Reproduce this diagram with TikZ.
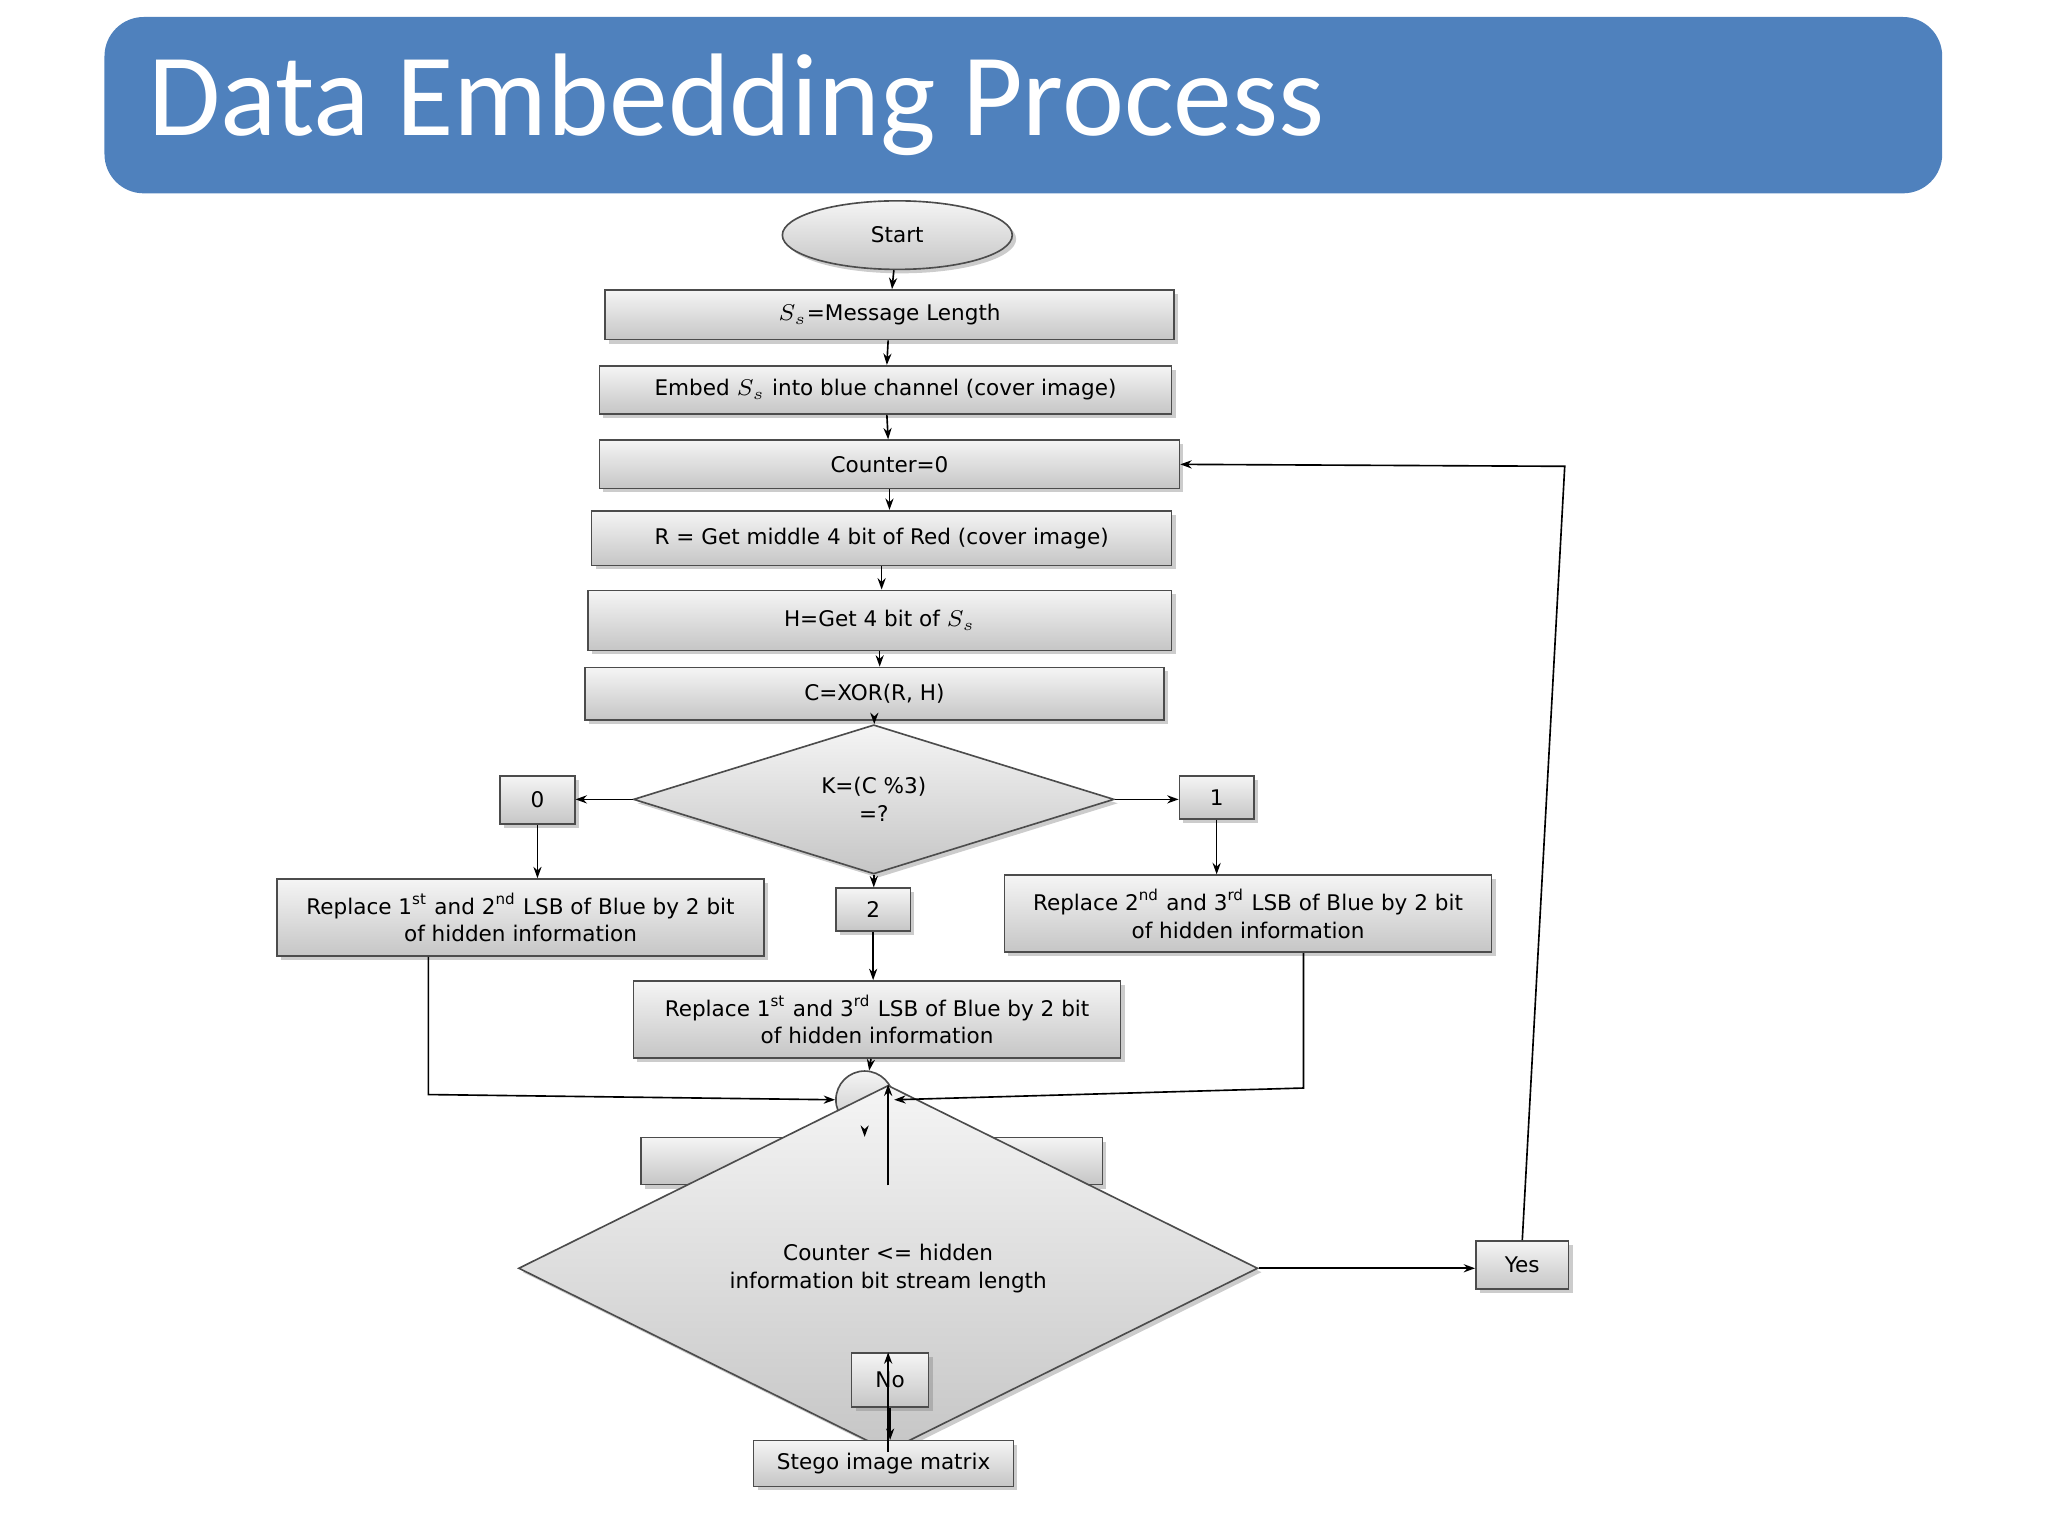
\documentclass[tikz,border=0pt]{standalone}
\usepackage{fontspec}
\setmainfont{DejaVu Sans}
\newfontfamily\titlefont{Carlito}
\usetikzlibrary{shapes.geometric,arrows.meta,shadows}
\begin{document}
\begin{tikzpicture}[x=0.4pt,y=-0.4pt,
  box/.style={draw=black!70,line width=0.5pt,top color=gray!8,bottom color=gray!45,
    drop shadow={shadow xshift=1.2pt,shadow yshift=-1.2pt,opacity=0.4},inner sep=1pt,
    font=\fontsize{6.6}{8.5}\selectfont,align=center},
  dia/.style={box,shape=diamond,inner sep=0pt},
  arr/.style={-{Stealth[length=3.5pt,width=2.5pt]},line width=0.5pt},
  ln/.style={line width=0.5pt}]
\useasboundingbox (0,0) rectangle (1568,1176);
\newcommand\bx[6]{%
  \pgfmathsetmacro\cx{(#2+#4)/2}\pgfmathsetmacro\cy{(#3+#5)/2}%
  \pgfmathsetmacro\ww{(#4-#2)*0.4}\pgfmathsetmacro\hh{(#5-#3)*0.4}%
  \node[box,minimum width=\ww pt,minimum height=\hh pt] (#1) at (\cx,\cy) {#6};}
% title
\fill[color={rgb,255:red,79;green,129;blue,189},rounded corners=12pt] (80,13) rectangle (1487,148);
\node[anchor=west,text=white,font=\titlefont\fontsize{36}{40}\selectfont,inner sep=0] (title) at (113,80) {Data Embedding Process};
% nodes
\node[box,ellipse,minimum width=70.4pt,minimum height=21pt] (start) at (687,180) {Start};
\bx{b1}{463}{222}{899}{260}{$S_s$=Message Length}
\bx{b2}{459}{280}{897}{317}{Embed $S_s$ into blue channel (cover image)}
\bx{b3}{459}{337}{903}{374}{Counter=0}
\bx{b4}{453}{391}{897}{433}{R = Get middle 4 bit of Red (cover image)}
\bx{b5}{450}{452}{897}{498}{H=Get 4 bit of $S_s$}
\bx{b6}{448}{511}{891}{551}{C=XOR(R, H)}
\node[dia,minimum width=147.2pt,minimum height=36pt] (d1) at (669,612) {K=(C \%3)\\=?};
\bx{z0}{383}{594}{440}{631}{0}
\bx{z1}{903}{594}{960}{627}{1}
\bx{bl}{212}{673}{585}{732}{Replace 1\textsuperscript{st} and 2\textsuperscript{nd} LSB of Blue by 2 bit\\of hidden information}
\bx{z2}{640}{680}{697}{713}{2}
\bx{br}{769}{670}{1142}{729}{Replace 2\textsuperscript{nd} and 3\textsuperscript{rd} LSB of Blue by 2 bit\\of hidden information}
\bx{bm}{485}{751}{858}{810}{Replace 1\textsuperscript{st} and 3\textsuperscript{rd} LSB of Blue by 2 bit\\of hidden information}
\node[box,circle,minimum size=17.6pt] (c) at (662,842) {};
\bx{b7}{491}{871}{844}{907}{Counter = counter + 2}
\node[dia,minimum width=226.4pt,minimum height=40.8pt] (d2) at (680,971) {Counter <= hidden\\information bit stream length};
\bx{yes}{1130}{950}{1201}{987}{Yes}
\bx{no}{652}{1036}{711}{1077}{No}
\bx{out}{577}{1103}{776}{1138}{Stego image matrix}
% connectors
\draw[arr] (start) -- (b1);
\draw[arr] (b1) -- (b2);
\draw[arr] (b2) -- (b3);
\draw[arr] (b3.south) -- (b4.north -| b3.south);
\draw[arr] (b4) -- (b5.north -| b4.south);
\draw[arr] (b5.south) -- (b6.north -| b5.south);
\draw[arr] (b6) -- (d1);
\draw[arr] (d1.west) -- (z0.east |- d1.west);
\draw[arr] (d1.east) -- (z1.west |- d1.east);
\draw[arr] (z0.south) -- (bl.north -| z0.south);
\draw[arr] (z1.south) -- (br.north -| z1.south);
\draw[arr] (d1.south) -- (z2.north -| d1.south);
\draw[arr] (z2.south) -- (bm.north -| z2.south);
\draw[arr] (bm) -- (c);
\coordinate (lc) at (328,838); \coordinate (rc) at (998,833);
\draw[arr] (bl.south -| lc) -- (lc) -- (c.west);
\draw[arr] (br.south -| rc) -- (rc) -- (c.east);
\draw[arr] (c) -- (b7.north -| c);
\draw[arr] (b7.south -| d2.north) -- (d2.north);
\draw[arr] (d2.east) -- (yes.west |- d2.east);
\coordinate (tr) at (1198,357);
\draw[arr] (yes.north) -- (tr) -- (b3.east);
\draw[arr] (d2.south) -- (no.north -| d2.south);
\draw[arr] (no) -- (out.north -| no);
\end{tikzpicture}
\end{document}
